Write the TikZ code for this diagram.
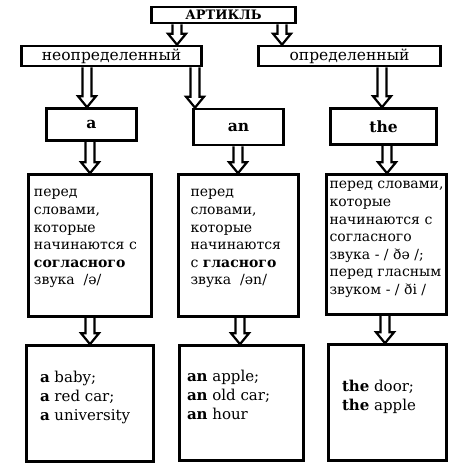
\documentclass[tikz,border=0pt]{standalone}
\usepackage{fontspec}
\setmainfont{DejaVu Serif}
\usetikzlibrary{calc}

% hollow block arrow from one box down to the next, at abscissa #3
\newcommand{\hollowarrow}[3]{%
  \draw[harrow] let \p1=(#1.south -| #3,0), \p2=(#2.north -| #3,0) in
    (\x1-4.5pt,\y1) -- (\x1-4.5pt,\y2+11pt) -- (\x1-9pt,\y2+11pt) -- (\x2,\y2)
    -- (\x1+9pt,\y2+11pt) -- (\x1+4.5pt,\y2+11pt) -- (\x1+4.5pt,\y1);}
% text block of fixed size, top aligned
\newcommand{\boxtext}[4]{\parbox[c][#1][t]{#2}{\raggedright\leftskip=#3 #4}}

\begin{document}
\begin{tikzpicture}[x=1pt,y=-1pt,
  hbox/.style={draw,line width=2.6pt,inner sep=0pt},
  tbox/.style={draw,line width=2.6pt,inner sep=2pt},
  harrow/.style={line width=2.2pt,line join=miter},
  bodyfont/.style={font=\fontsize{14}{17.6}\selectfont},
  exfont/.style={font=\fontsize{15}{19}\selectfont}]
\useasboundingbox (0,0) rectangle (474,474);

\node [hbox,minimum width=144pt,minimum height=16pt,font=\bfseries\fontsize{13}{14}\selectfont] (art) at (223.5,15) {АРТИКЛЬ};
\node [hbox,minimum width=180pt,minimum height=20pt,font=\fontsize{15.5}{16}\selectfont] (neopr) at (111.5,56) {неопределенный};
\node [hbox,minimum width=182pt,minimum height=20pt,font=\fontsize{15.5}{16}\selectfont] (opr) at (349.5,56) {определенный};

\node [hbox,minimum width=90pt,minimum height=32pt,font=\bfseries\fontsize{15.5}{16}\selectfont] (a) at (91.5,124.5) {a};
\node [hbox,minimum width=90pt,minimum height=36pt,font=\bfseries\fontsize{15.5}{16}\selectfont] (an) at (238.5,127) {an};
\node [hbox,minimum width=106pt,minimum height=36pt,font=\bfseries\fontsize{15.5}{16}\selectfont] (the) at (383.5,126.5) {the};

\node [tbox,bodyfont] (t1) at (90,245.5) {\boxtext{138pt}{119pt}{3.5pt}{\vspace*{8pt}\strut перед\\ словами,\\ которые\\ начинаются с\\ \textbf{согласного}\\ звука~ /ə/}};
\node [tbox,bodyfont] (t2) at (238.5,245.5) {\boxtext{138pt}{116pt}{10pt}{\vspace*{8pt}\strut перед\\ словами,\\ которые\\ начинаются\\ с \textbf{гласного}\\ звука~ /ən/}};
\node [tbox,bodyfont] (t3) at (386.5,244.5) {\boxtext{136pt}{116pt}{1pt}{\strut перед словами,\\ которые\\ начинаются с\\ согласного\\ звука - / ðə /;\\ перед гласным\\ звуком - / ði /}};

\node [tbox,exfont] (e1) at (90,403.5) {\boxtext{112pt}{123pt}{11.5pt}{\vspace*{22pt}\strut\textbf{a} baby;\\ \textbf{a} red car;\\ \textbf{a} university}};
\node [tbox,exfont] (e2) at (241.5,403) {\boxtext{111pt}{120pt}{5.5pt}{\vspace*{21pt}\strut\textbf{an} apple;\\ \textbf{an} old car;\\ \textbf{an} hour}};
\node [tbox,exfont] (e3) at (387.5,402.5) {\boxtext{112pt}{114pt}{11.5pt}{\vspace*{32pt}\strut\textbf{the} door;\\ \textbf{the} apple}};

\hollowarrow{art}{neopr}{177}
\hollowarrow{art}{opr}{282}
\hollowarrow{neopr}{a}{87}
\hollowarrow{neopr}{an}{195}
\hollowarrow{opr}{the}{382}
\hollowarrow{a}{t1}{90}
\hollowarrow{an}{t2}{238}
\hollowarrow{the}{t3}{387}
\hollowarrow{t1}{e1}{90}
\hollowarrow{t2}{e2}{240}
\hollowarrow{t3}{e3}{385}
\end{tikzpicture}
\end{document}
